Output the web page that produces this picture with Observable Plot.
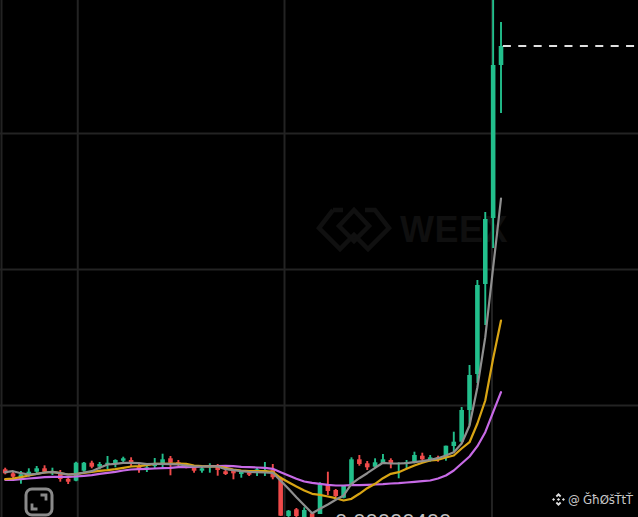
<!DOCTYPE html>
<html>
<head>
<meta charset="utf-8">
<script src="https://cdn.jsdelivr.net/npm/d3@7"></script>
<script src="https://cdn.jsdelivr.net/npm/@observablehq/plot@0.6"></script>
<style>
html,body{margin:0;padding:0;background:#000;overflow:hidden}
#wrap{position:relative;width:638px;height:517px;overflow:hidden;background:#000}
#wrap svg{display:block}
#wrap > svg.plot-chart{position:absolute;left:0;top:0}
.ov{position:absolute;white-space:nowrap;font-family:"Liberation Sans",sans-serif}
</style>
</head>
<body>
<div id="wrap"></div>
<script>
// Candle values, in chart price units
const highs = [49.3,45.3,46,48.7,51,51.7,49.3,47,40.3,55.3,55,56.3,55,61,57.7,60.3,59.7,53.7,52,59,63.3,61,57,53.7,52,50.3,53.7,53,47.7,47.7,47,45.3,49.7,55,53,40.3,7,9,9.7,5,34.7,45.3,28,32,59.7,62,56,58.7,63,58.7,54.7,57,65.3,64.3,62,61.3,71.3,85.3,110,152,237,305,560,495];
const tops = [47.7,43.7,42.7,45.3,48.7,48.7,45.3,43.7,38.3,54.3,54.3,54.3,53,54.3,57,58.7,57,51,49.7,53.7,57.7,58.7,54.7,53,49.7,48.7,52,51,45.7,46.3,45.7,44.3,47.7,47,47,38.7,6.3,7.7,7,3.7,33,32.7,27,31.3,57.7,57.7,53.7,54.7,57.7,57,53.7,55,62,61.3,59.7,59.7,71.3,75.3,107,142,232,298,452,471];
const bottoms = [43.7,40.3,37.7,42,45.3,45.3,43.7,38,35.3,36.3,46.3,50.3,50.3,53,53.7,56.3,54.3,47.7,47.7,51,53.7,54.3,53,51,46.3,46.3,49.7,47,43,43.7,43,42.3,44.3,44.3,39.7,1.3,1,1,0,0,3,26,21,19.3,32,53,49.7,50.3,53.7,53.7,53,53.7,55.3,57.7,57.7,58.7,60.3,71,75.3,107,143,233,299,452];
const lows = [42.7,37.7,33.3,40.3,42,43.7,42,35.3,33,35.7,45.3,48.7,47.7,47.7,49.7,54.3,51,44.3,45,48.7,49.7,41.7,51,48.7,44.3,44.3,44.3,41.3,42,37.7,39.3,41,41,41,37.7,1,0,0,-1.3,-3,3,22,19.7,18.7,31,51.3,47,49,53,48.7,38.7,48.7,53.7,54.3,55.3,55.3,56.3,65.3,74,92,134,192,269,404];
const rising = [0,0,1,1,1,0,1,0,0,1,1,0,1,1,1,1,0,0,1,1,1,0,0,0,0,1,1,0,0,0,1,0,1,1,0,0,1,0,1,0,1,0,0,1,1,0,0,1,1,0,1,1,1,0,1,0,1,1,1,1,1,1,1,1];
// Moving averages
const maGray = [45.3,46.3,44.3,43,43.7,45,45.7,44.3,43,43.3,45,46.3,49.7,53,53.7,54.7,54.7,54.3,53.3,53.7,53.7,53.3,53,52,51,51,51,51,48.3,47.3,46.3,45.7,45.3,45,44.7,36.7,28.7,20.3,12.3,4.3,8.7,13,17.7,22,33.7,39.3,44.3,49.7,54.7,54,54,54.3,55.3,56.3,57.7,59.3,62,65.3,74,92,130.3,180.3,250,319];
const maYellow = [38.3,39,40.3,42,43.7,45,45.7,44.3,43,43.3,44.7,45.7,46.7,47.3,48.3,49.7,51,51.3,52.3,53.7,53.7,54,54,53.7,52,51.3,51,51,49.7,48,47,46.3,46.3,46.3,45.7,39.7,35.3,31,27,23.7,22.7,21,19.3,17,18.7,23.7,29.3,33.7,39.3,43.7,45.3,48.7,52,54.7,57,57.7,60,62,69,75.3,94,117,159,197];
const maPurple = [37.7,37.7,38.3,39,39.7,40.3,40.7,40.7,40.7,41,41.7,42.3,43.7,44.7,45.7,47,48,48.3,48.7,49,49.3,49.7,50.3,50.3,50.7,51,51.3,51.3,51.7,51.3,50.7,50.3,50,49.7,48.7,45.3,42,38.7,36,34.7,33.7,32.7,32,32,32.3,32.3,32.7,33,33.3,34,34.3,35,35.7,36.3,37,39,42,47,54,61,71.3,85.3,105.3,125.3];
// Grid and last price
const gridPrices = [112, 248, 384];
const gridTimes = [-0.47, 9.22, 35.49, 61.85];
const lastPrice = 471.5;
const lastFrom = 63.3, lastTo = 80.1;

const candles = highs.map((h,i)=>({i,h,t:tops[i],b:bottoms[i],l:lows[i],c:rising[i]?"#22bf8c":"#ef4a4a"}));
const series = a => a.map((v,i)=>({i,v}));

const chart = Plot.plot({
  width:638, height:517, margin:0,
  style:{background:"transparent"},
  x:{domain:[-0.597,80.47], range:[0,638], axis:null},
  y:{domain:[0,517], range:[517,0], axis:null},
  marks:[
    Plot.ruleY(gridPrices,{stroke:"#232323",strokeWidth:1.8}),
    Plot.ruleX(gridTimes,{stroke:"#232323",strokeWidth:2}),
    Plot.ruleX(candles,{x:"i",y1:"l",y2:"h",stroke:"c",strokeWidth:1.9}),
    Plot.ruleX(candles,{x:"i",y1:"b",y2:"t",stroke:"c",strokeWidth:4.6}),
    Plot.line(series(maPurple),{x:"i",y:"v",stroke:"#c76ae6",strokeWidth:2.2}),
    Plot.line(series(maYellow),{x:"i",y:"v",stroke:"#d9a514",strokeWidth:2.2}),
    Plot.line(series(maGray),{x:"i",y:"v",stroke:"#8f8f8f",strokeWidth:2.2}),
    Plot.ruleY([lastPrice],{x1:lastFrom,x2:lastTo,stroke:"#e0e0e0",strokeWidth:2,strokeDasharray:"8,7.4"})
  ]
});
const wrap = document.getElementById("wrap");

wrap.insertAdjacentHTML("beforeend",`
<svg class="ov" style="left:316px;top:207px" width="76" height="46" viewBox="0 0 76 46" fill="none" stroke="#101010" stroke-width="4.5">
  <path d="M17 3 L3 21 L24 42 L38 28 L52 42 L73 21 L59 3 L49 3"/><path d="M38 3 L23 19 L38 34 L53 19 Z"/><path d="M17 3 L27 3"/>
</svg>
<div class="ov" style="left:400px;top:208px;font-size:36px;font-weight:700;color:#0f0f0f;letter-spacing:0.5px;line-height:44px">WEEX</div>
`);
wrap.appendChild(chart);
chart.classList.add("plot-chart");
wrap.insertAdjacentHTML("beforeend",`
<div class="ov" style="left:335px;top:509px;font-size:22px;color:#c4c4c4;line-height:26px">0.00000400</div>
<svg class="ov" style="left:24px;top:487px" width="30" height="30" viewBox="0 0 30 30" fill="none" stroke="#8a8a8a">
  <rect x="2" y="2" width="26" height="26" rx="6" stroke-width="3"/>
  <path d="M16.5 8 H22 V13.5 M8 16.5 V22 H13.5" stroke-width="2.8"/>
</svg>
<svg class="ov" style="left:551px;top:492px" width="15" height="15" viewBox="0 0 14 14" fill="#e0e0e0">
  <path d="M7 1 L9.6 3.6 L8.4 4.8 L7 3.4 L5.6 4.8 L4.4 3.6 Z M1 7 L2.4 5.6 L3.8 7 L2.4 8.4 Z M10.2 7 L11.6 5.6 L13 7 L11.6 8.4 Z M7 5.5 L8.5 7 L7 8.5 L5.5 7 Z M7 13 L4.4 10.4 L5.6 9.2 L7 10.6 L8.4 9.2 L9.6 10.4 Z"/>
</svg>
<div class="ov" style="left:568px;top:492px;font-size:11.8px;color:#c8c8c8;line-height:16px;font-family:'DejaVu Sans',sans-serif;letter-spacing:-0.3px">@ ĞħØšŤtŤ</div>
`);
</script>
</body>
</html>
